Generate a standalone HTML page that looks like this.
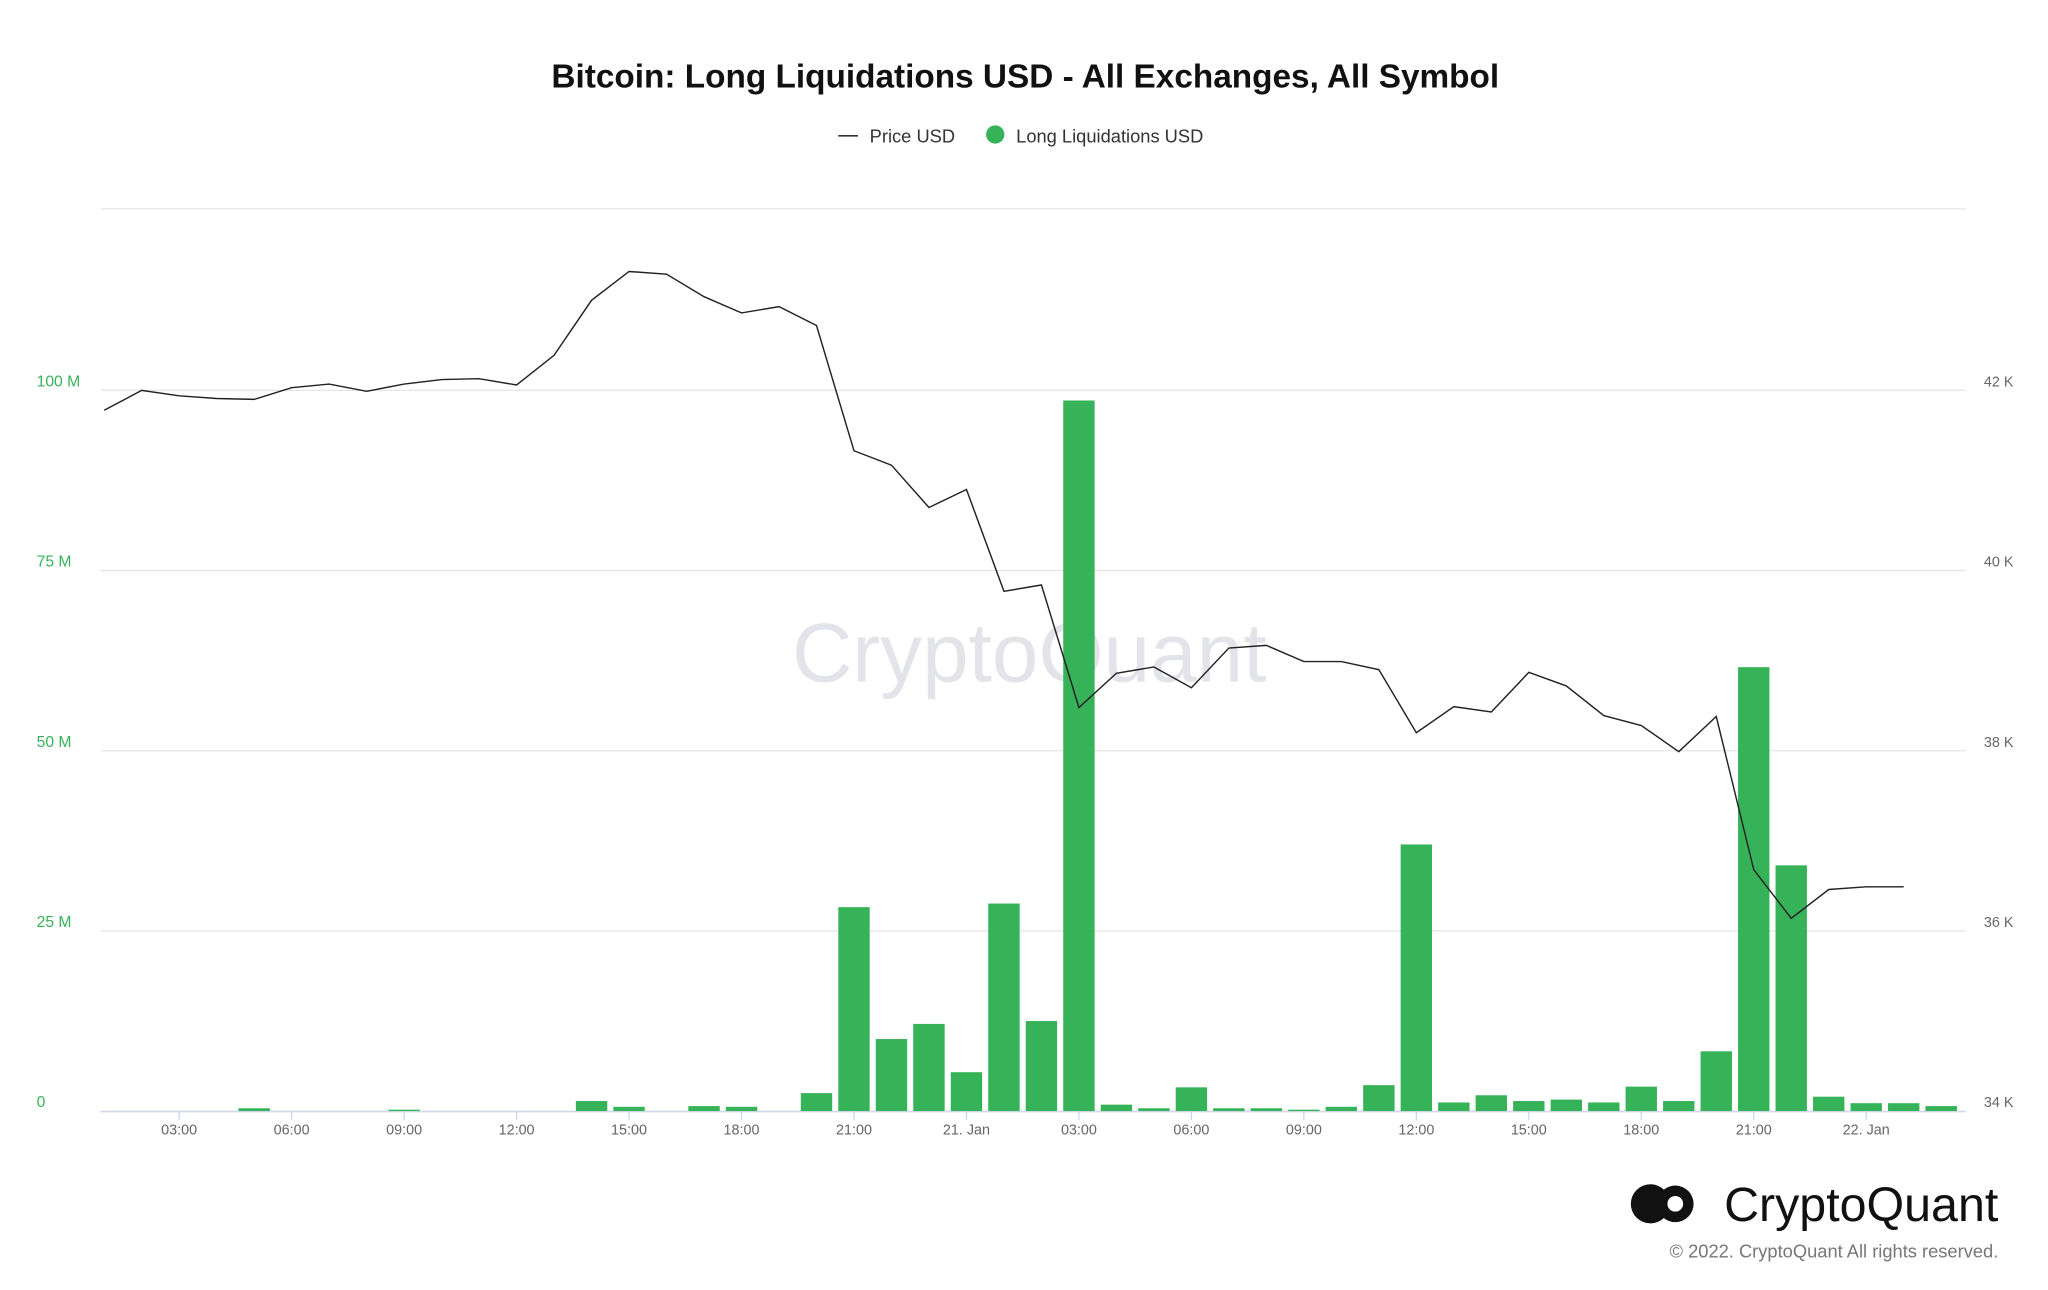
<!DOCTYPE html>
<html><head><meta charset="utf-8"><style>
html,body{margin:0;padding:0;background:#fff;}
svg{display:block;font-family:"Liberation Sans",Arial,sans-serif;}
</style></head><body>
<svg id="chart" width="2048" height="1290" viewBox="0 0 1566 988" preserveAspectRatio="none" xmlns="http://www.w3.org/2000/svg">
<rect width="1566" height="988" fill="#fff"/>
<text x="784" y="67" text-anchor="middle" font-size="25.5" font-weight="bold" fill="#111">Bitcoin: Long Liquidations USD - All Exchanges, All Symbol</text>
<g>
<line x1="641" y1="104" x2="656" y2="104" stroke="#333" stroke-width="1.2"/>
<text x="665" y="109" font-size="14" fill="#333">Price USD</text>
<circle cx="761" cy="103" r="7" fill="#36b359"/>
<text x="777" y="109" font-size="14" fill="#333">Long Liquidations USD</text>
</g>
<text x="787" y="522" text-anchor="middle" font-size="64" fill="#e3e3ea">CryptoQuant</text>
<g id="grid"></g><g id="bars"></g><g id="line"></g><g id="axes"></g>
<g>
<circle cx="1262" cy="922" r="15" fill="#111"/><circle cx="1281" cy="922" r="14" fill="#111"/><circle cx="1281" cy="922" r="6" fill="#fff"/>
<text x="1528" y="935" text-anchor="end" font-size="37" fill="#111">CryptoQuant</text>
<text x="1528" y="963" text-anchor="end" font-size="14" fill="#777">© 2022. CryptoQuant All rights reserved.</text>
</g>
</svg>
<script>
const liqHours=[5,9,14,15,17,18,20,21,22,23,24,25,26,27,28,29,30,31,32,33,34,35,36,37,38,39,40,41,42,43,44,45,46,47,48,49,50];
const liqValues=[0.4,0.2,1.4,0.6,0.7,0.6,2.5,28.3,10.0,12.1,5.4,28.8,12.5,98.6,0.9,0.4,3.3,0.4,0.4,0.2,0.6,3.6,37.0,1.2,2.2,1.4,1.6,1.2,3.4,1.4,8.3,61.6,34.1,2.0,1.1,1.1,0.7];
const priceHours=[1,2,3,4,5,6,7,8,9,10,11,12,13,14,15,16,17,18,19,20,21,22,23,24,25,26,27,28,29,30,31,32,33,34,35,36,37,38,39,40,41,42,43,44,45,46,47,48,49];
const priceValues=[41.78,42.0,41.94,41.91,41.90,42.03,42.07,41.99,42.07,42.12,42.13,42.06,42.39,43.0,43.32,43.29,43.04,42.86,42.93,42.72,41.33,41.17,40.70,40.90,39.77,39.84,38.48,38.86,38.93,38.70,39.14,39.17,38.99,38.99,38.90,38.20,38.49,38.43,38.87,38.72,38.39,38.28,37.99,38.38,36.68,36.14,36.46,36.49,36.49];
const leftTicks=[0,25,50,75,100];
const leftLabels=["0","25 M","50 M","75 M","100 M"];
const rightTicks=[34,36,38,40,42];
const rightLabels=["34 K","36 K","38 K","40 K","42 K"];
const xTickHours=[3,6,9,12,15,18,21,24,27,30,33,36,39,42,45,48];
const xTickLabels=["03:00","06:00","09:00","12:00","15:00","18:00","21:00","21. Jan","03:00","06:00","09:00","12:00","15:00","18:00","21:00","22. Jan"];
const NS="http://www.w3.org/2000/svg";
const x=h=>51+h*(86/3);
const yL=v=>851-v*138/25;
const yR=v=>851-(v-34)*69;
function mk(t,a,p){const e=document.createElementNS(NS,t);for(const k in a)e.setAttribute(k,a[k]);p.appendChild(e);return e;}
const grid=document.getElementById('grid'),bars=document.getElementById('bars'),line=document.getElementById('line'),axes=document.getElementById('axes');
[160,...leftTicks.map(yL)].forEach(y=>{const l=mk('line',{x1:77,x2:1503,y1:y,y2:y,stroke:'#e6e6e6','stroke-width':1},grid);

});
leftTicks.forEach((v,i)=>{const t=mk('text',{x:28,y:yL(v)-3,'font-size':12,fill:'#36b359'},axes);t.textContent=leftLabels[i];

});
rightTicks.forEach((v,i)=>{const t=mk('text',{x:1517,y:yR(v)-3,'font-size':11,fill:'#666'},axes);t.textContent=rightLabels[i];

});
mk('line',{x1:77,x2:1503,y1:851.5,y2:851.5,stroke:'#ccd6eb','stroke-width':1},axes);
xTickHours.forEach((h,i)=>{mk('line',{x1:x(h),x2:x(h),y1:851,y2:858,stroke:'#ccd6eb'},axes);
const t=mk('text',{x:x(h),y:869,'text-anchor':'middle','font-size':11,fill:'#666'},axes);t.textContent=xTickLabels[i];

});
liqHours.forEach((h,i)=>{const y=yL(liqValues[i]);const r=mk('rect',{x:x(h)-12,y:y,width:24,height:851-y,fill:'#36b359'},bars);

});
const p=mk('polyline',{points:priceHours.map((h,i)=>x(h)+','+yR(priceValues[i])).join(' '),fill:'none',stroke:'#222','stroke-width':1.1},line);


</script>
</body></html>
